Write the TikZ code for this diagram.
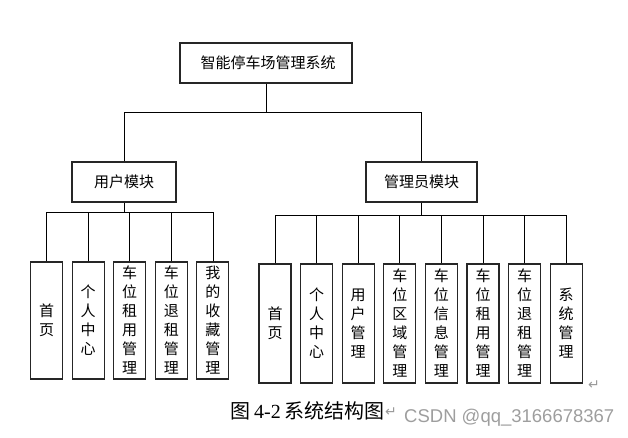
\documentclass[tikz,border=0pt]{standalone}
\usepackage{fontspec}
\newfontfamily\cjk{Noto Sans CJK SC}
\newfontfamily\numfont{Liberation Serif}
\newfontfamily\wmfont{Liberation Sans}
\newfontfamily\symfont{DejaVu Sans}
\usetikzlibrary{
    positioning,
    calc
}
\tikzset{
    % --- Top-level system box ---
    system box/.style = {
        rectangle, draw=black!85, line width=1.1pt,
        minimum width=172pt, minimum height=40pt,
        font=\cjk\fontsize{15}{18}\selectfont
    },
    % --- Module box (second level) ---
    module/.style = {
        rectangle, draw=black!85, line width=1.1pt,
        minimum height=40pt, inner sep=2pt,
        font=\cjk\fontsize{15}{18}\selectfont
    },
    % --- Leaf function box (vertical text) ---
    leaf/.style = {
        rectangle, draw=black!85, line width=1.1pt,
        minimum width=32pt, inner sep=1pt, align=center,
        font=\cjk\fontsize{15}{19}\selectfont
    },
    % --- Tree connector ---
    link/.style = {
        line width=0.8pt, black
    },
    % --- Paragraph mark ---
    pmark/.style = {
        font=\symfont\fontsize{14}{14}\selectfont, text=black!40, inner sep=0pt
    },
    % --- Watermark text ---
    watermark/.style = {
        font=\wmfont\fontsize{18.5}{18.5}\selectfont, text=black!38, inner sep=0pt
    }
}

\begin{document}
\begin{tikzpicture}[x=1pt, y=-1pt]

\useasboundingbox (0,0) rectangle (628,437);

% ---------------------------------------------------------
% System and modules
% ---------------------------------------------------------
\node[system box] (sys) at (266,63) {\hspace{4pt}智能停车场管理系统};

\node[module, minimum width=104pt] (user) at (124,182) {用户模块};
\node[module, minimum width=111pt] (admin) at (421.5,182) {管理员模块};

\coordinate (topBus) at ($(sys.south)+(0,29)$);
\draw[link] (sys.south) -- (topBus);
\draw[link] (user.north) |- (topBus) -| (admin.north);

% ---------------------------------------------------------
% User module functions
% ---------------------------------------------------------
\node[leaf, minimum height=117pt] (u1) at (46.5,320.5) {首\\页};
\node[leaf, minimum height=117pt, right=8.5pt of u1] (u2) {个\\人\\中\\心};
\node[leaf, minimum height=117pt, right=8.5pt of u2] (u3) {车\\位\\租\\用\\管\\理};
\node[leaf, minimum height=117pt, right=8.5pt of u3] (u4) {车\\位\\退\\租\\管\\理};
\node[leaf, minimum height=117pt, right=8.5pt of u4] (u5) {我\\的\\收\\藏\\管\\理};

\coordinate (userBus) at ($(user.south)+(0,10)$);
\draw[link] (user.south) -- (userBus);
\foreach \i in {1,...,5}
    \draw[link] (u\i.north) |- (userBus);

% ---------------------------------------------------------
% Admin module functions
% ---------------------------------------------------------
\node[leaf, minimum height=119pt] (a1) at (275,323.5) {首\\页};
\node[leaf, minimum height=119pt, right=8.5pt of a1] (a2) {个\\人\\中\\心};
\node[leaf, minimum height=119pt, right=8.5pt of a2] (a3) {用\\户\\管\\理};
\node[leaf, minimum height=119pt, right=8.5pt of a3] (a4) {车\\位\\区\\域\\管\\理};
\node[leaf, minimum height=119pt, right=8.5pt of a4] (a5) {车\\位\\信\\息\\管\\理};
\node[leaf, minimum height=119pt, right=8.5pt of a5] (a6) {车\\位\\租\\用\\管\\理};
\node[leaf, minimum height=119pt, right=8.5pt of a6] (a7) {车\\位\\退\\租\\管\\理};
\node[leaf, minimum height=119pt, right=8.5pt of a7] (a8) {系\\统\\管\\理};

\coordinate (adminBus) at ($(admin.south)+(0,13)$);
\draw[link] (admin.south) -- (adminBus);
\foreach \i in {1,...,8}
    \draw[link] (a\i.north) |- (adminBus);

% ---------------------------------------------------------
% Caption and marks
% ---------------------------------------------------------
\node[pmark] (endMark) at (594,385) {↵};

\node[font=\cjk\fontsize{20}{20}\selectfont, inner sep=0pt] (caption) at (307.5,411)
    {图\hspace{4pt}{\numfont 4-2}\hspace{4pt}系统结构图};
\node[pmark, right=0pt of caption, yshift=-1pt] (capMark) {↵};
\node[watermark, anchor=west] (csdn) at (404,418) {CSDN @qq\_3166678367};

\end{tikzpicture}
\end{document}
